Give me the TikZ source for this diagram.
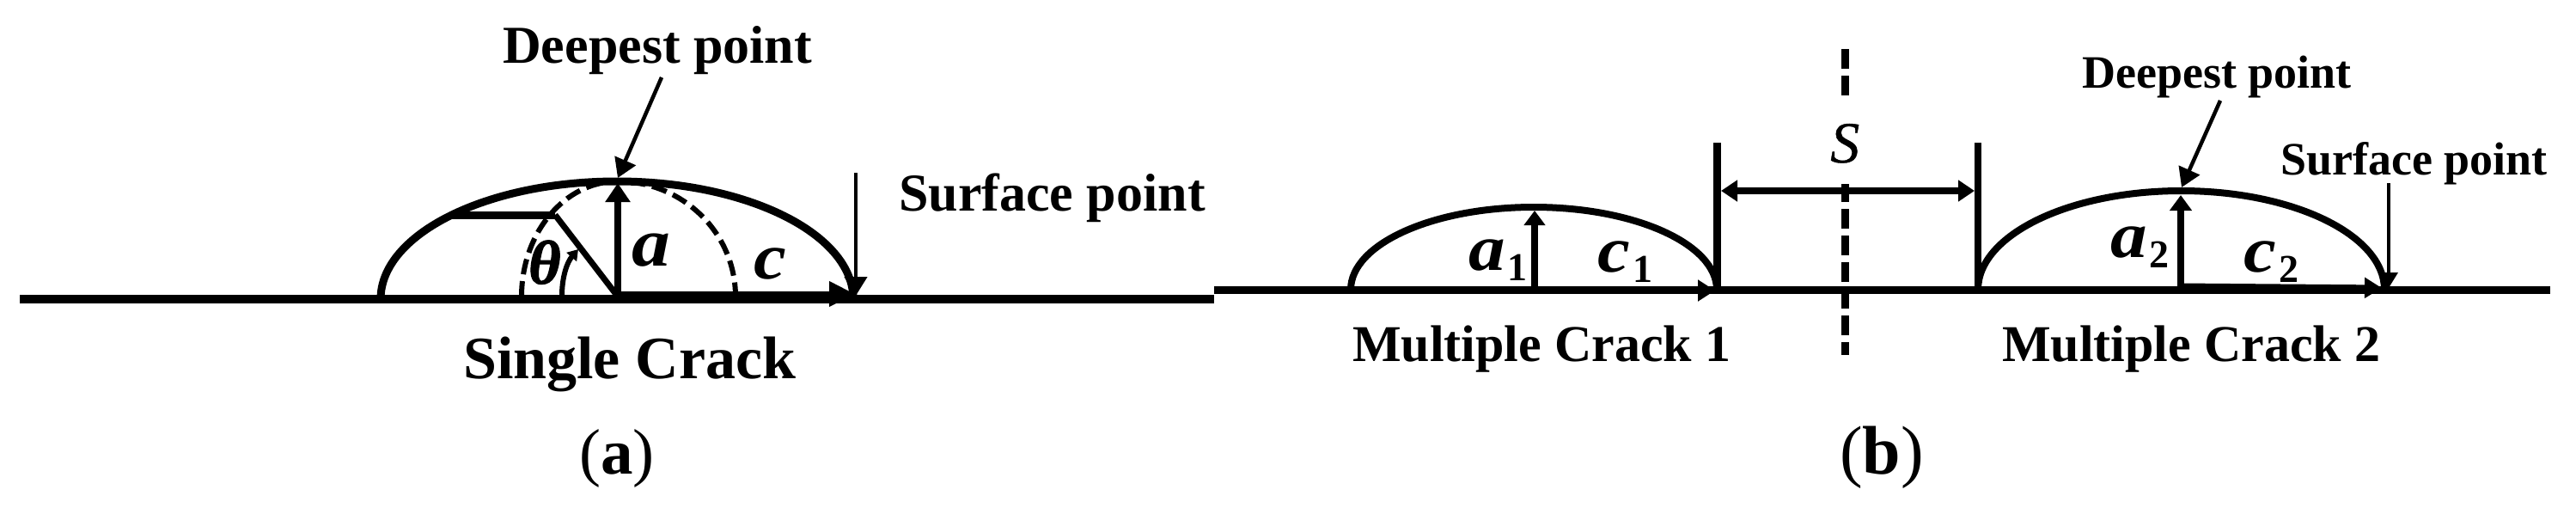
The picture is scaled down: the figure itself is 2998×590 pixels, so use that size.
\documentclass[tikz,border=0pt]{standalone}
\usepackage{fontspec}
\setmainfont{Liberation Serif}
\newfontfamily\varfont[UprightFont=* Bold Italic,FakeStretch=1.12]{Liberation Serif}
\newfontfamily\thfont[UprightFont=* Bold Italic,FakeBold=1.5]{Liberation Serif}
\newfontfamily\sfont[UprightFont=* Italic,FakeBold=0.6]{Liberation Serif}
\usetikzlibrary{arrows.meta}
\newcommand{\pxfont}[1]{\fontsize{#1}{#1}\selectfont}
\newcommand{\varlab}[3]{{\varfont\pxfont{#1}#2}{\pxfont{46}\bfseries\raisebox{-12pt}{\kern3pt #3}}}
\tikzset{
  x=1pt,y=-1pt,
  lab/.style={inner sep=0pt,anchor=base west,font=\bfseries},
  baseln/.style={line width=#1,line cap=butt},
  crack/.style={line width=8pt},
  wall/.style={line width=8.5pt},
  thickarrow/.style={line width=8.5pt,-{Triangle[length=22pt,width=28pt]}},
  thinarrow/.style={line width=4.5pt,-{Triangle[length=22pt,width=26pt]}},
  dashline/.style={line width=9pt,dash pattern=on 23pt off 8pt},
  dasharc/.style={line width=6pt,dash pattern=on 18pt off 8pt}
}
\begin{document}
\begin{tikzpicture}
\useasboundingbox[fill=white] (0,0) rectangle (2998,590);
% --- coordinates (a)
\coordinate (aL) at (23,348);
\coordinate (aR) at (1413,348);
\coordinate (aO) at (719,345);
\coordinate (aCL) at (443,348);
\coordinate (aTop) at (719,213);
\coordinate (aEnd) at (995,342);
\coordinate (aPn) at (646,250);
\coordinate (aPe) at (523,250);
\coordinate (aDL) at (607,345);
\coordinate (aDtail) at (770,90);
\coordinate (aDtip) at (719,207);
\coordinate (aStail) at (996,201);
\coordinate (aStip) at (996,344);
\coordinate (aTh0) at (654,344);
\coordinate (aTh1) at (673,290);
% --- coordinates (b)
\coordinate (bL) at (1413,337.6);
\coordinate (bR) at (2968,337.6);
\coordinate (b1L) at (1572,337);
\coordinate (b1O) at (1786,338);
\coordinate (b1Top) at (1786,245);
\coordinate (b1End) at (1996,338);
\coordinate (b2L) at (2302,337);
\coordinate (b2O) at (2538,338);
\coordinate (b2Top) at (2538,227);
\coordinate (b2Base) at (2538,333);
\coordinate (b2End) at (2772,335);
\coordinate (w1T) at (1998.5,166);
\coordinate (w1B) at (1998.5,338);
\coordinate (w2T) at (2302,166);
\coordinate (w2B) at (2302,338);
\coordinate (sL) at (2003,222);
\coordinate (sR) at (2298,222);
\coordinate (dT) at (2147,57);
\coordinate (dB) at (2147,413);
\coordinate (b2Dtail) at (2584,117);
\coordinate (b2Dtip) at (2539,218);
\coordinate (b2Stail) at (2780,213);
\coordinate (b2Stip) at (2780,335);
% --- (a) drawing
\draw[baseln=10pt] (aL) -- (aR);
\draw[line width=9pt] (aCL) arc[start angle=180,end angle=0,x radius=275pt,y radius=137pt];
\draw[dasharc] (aDL) arc[start angle=180,end angle=90,x radius=112pt,y radius=134pt]
   arc[start angle=90,end angle=0,x radius=137pt,y radius=134pt];
\draw[line width=9pt] (aPe) -- (aPn);
\draw[line width=7pt] (aPn) -- (aO);
\draw[thickarrow] (aO) -- (aTop);
\draw[line width=7pt,-{Triangle[length=30pt,width=28pt]}] (719,342) -- (aEnd);
\draw[line width=6pt,-{Triangle[length=12pt,width=15pt]}] (aTh0) .. controls (654,322) and (660,305) .. (aTh1);
\draw[thinarrow] (aDtail) -- (aDtip);
\draw[thinarrow] (aStail) -- (aStip);
\node[lab] (deepA) at (585,73) {\pxfont{62}Deepest point};
\node[lab] (surfA) at (1046,245) {\pxfont{62}Surface point};
\node[lab] (single) at (539,440) {\pxfont{70}Single Crack};
\node[lab,font=\normalfont] (capA) at (674,551) {\pxfont{75}(\textbf{a})};
\node[lab] (varA) at (735,309) {\varfont\pxfont{80}a};
\node[lab] (varC) at (877,324) {\varfont\pxfont{76}c};
\node[lab] (varT) at (615,330) {\thfont\pxfont{72}θ};
% --- (b) drawing
\draw[baseln=8.5pt] (bL) -- (bR);
\draw[crack] (b1L) arc[start angle=180,end angle=0,x radius=213pt,y radius=96pt];
\draw[crack] (b2L) arc[start angle=180,end angle=0,x radius=236.5pt,y radius=115pt];
\draw[wall] (w1T) -- (w1B);
\draw[wall] (w2T) -- (w2B);
\draw[line width=8pt,{Triangle[length=19pt,width=24pt]}-{Triangle[length=19pt,width=24pt]}] (sL) -- (sR);
\draw[line width=8pt,-{Triangle[length=17pt,width=24pt]}] (b1O) -- (b1Top);
\draw[line width=8pt,-{Triangle[length=18pt,width=25pt]}] (b2O) -- (b2Top);
\draw[line width=7pt,-{Triangle[length=20pt,width=24pt]}] (b1O) -- (b1End);
\draw[line width=7pt,-{Triangle[length=20pt,width=23pt]}] (b2Base) -- (b2End);
\draw[dashline] (dT) -- (dB);
\draw[thinarrow] (b2Dtail) -- (b2Dtip);
\draw[line width=3.5pt,-{Triangle[length=18pt,width=21pt]}] (b2Stail) -- (b2Stip);
\node[fill=white,minimum width=50pt,minimum height=102pt,inner sep=0pt] (sGap) at (2147,163) {};
\node[inner sep=0pt,anchor=base west] (varS) at (2130,189) {\sfont\pxfont{68}S};
\node[lab] (varAa) at (1709,314) {\varlab{76}{a}{1}};
\node[lab] (varCa) at (1859,316) {\varlab{76}{c}{1}};
\node[lab] (varAb) at (2456,299) {\varlab{76}{a}{2}};
\node[lab] (varCb) at (2611,316) {\varlab{76}{c}{2}};
\node[lab] (deepB) at (2423,102) {\pxfont{54}Deepest point};
\node[lab] (surfB) at (2654,203) {\pxfont{54}Surface point};
\node[lab] (mc1) at (1574,420) {\pxfont{60}Multiple Crack 1};
\node[lab] (mc2) at (2330,420) {\pxfont{60}Multiple Crack 2};
\node[lab,font=\normalfont] (capB) at (2141,551) {\pxfont{80}(\textbf{b})};
\end{tikzpicture}
\end{document}
